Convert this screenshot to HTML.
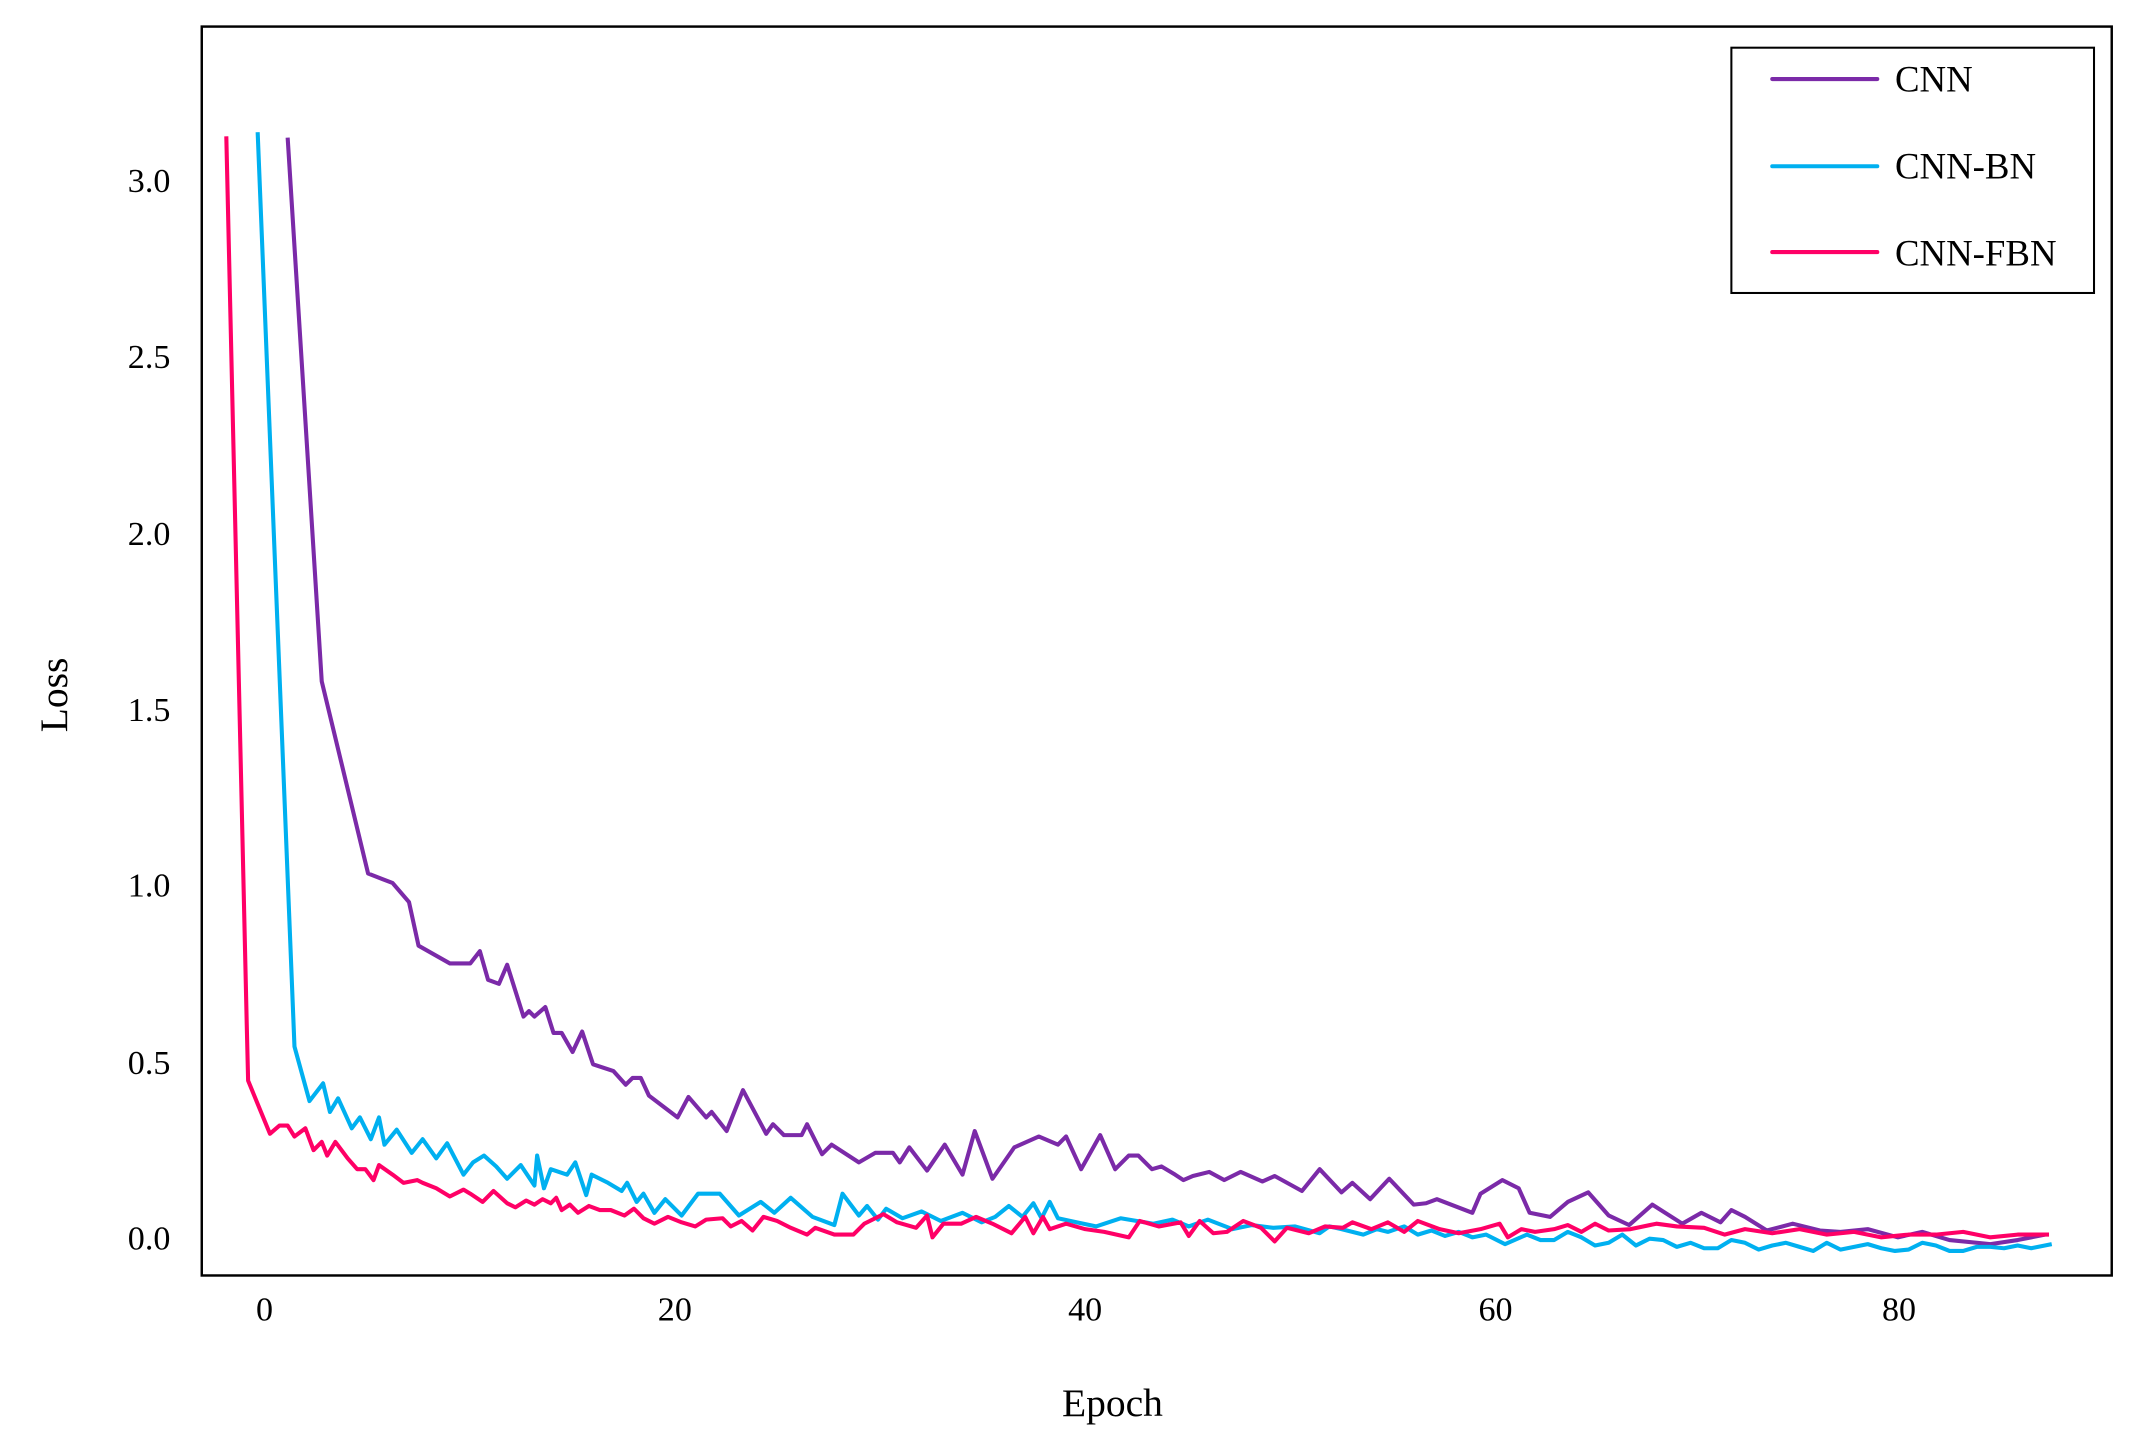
<!DOCTYPE html>
<html><head><meta charset="utf-8"><style>
html,body{margin:0;padding:0;background:#fff;}
svg{display:block;}
text{font-family:"Liberation Serif",serif;fill:#000;}
</style></head><body>
<svg width="2139" height="1454" viewBox="0 0 1569 1067" preserveAspectRatio="none" xmlns="http://www.w3.org/2000/svg">
<rect x="0" y="0" width="1569" height="1067" fill="#fff"/>
<rect x="148" y="19.5" width="1401" height="916.5" fill="none" stroke="#000" stroke-width="1.8"/>
<g font-size="25" text-anchor="end">
<text x="125" y="141">3.0</text>
<text x="125" y="270">2.5</text>
<text x="125" y="400">2.0</text>
<text x="125" y="529">1.5</text>
<text x="125" y="658">1.0</text>
<text x="125" y="788">0.5</text>
<text x="125" y="917">0.0</text>
</g>
<g font-size="25" text-anchor="middle">
<text x="194" y="969">0</text>
<text x="495" y="969">20</text>
<text x="796" y="969">40</text>
<text x="1097" y="969">60</text>
<text x="1393" y="969">80</text>
<text x="816" y="1039" font-size="29">Epoch</text>
</g>
<text x="0" y="0" font-size="29" text-anchor="middle" transform="translate(49,510) rotate(-90)">Loss</text>
<g fill="none" stroke-width="3" stroke-linejoin="round">
<polyline stroke="#7B2AA8" points="211,101 236,500 270,641 288,648 300,662 307,694 330,707 345,707 352,698 358,719 366,722 372,708 384,746 388,742 392,746 400,739 406,758 412,758 420,772 427,757 435,781 450,786 459,796 464,791 470,791 476,804 497,820 505,805 518,820 522,816 533,830 545,800 562,832 567,825 575,833 588,833 592,825 603,847 610,840 630,853 642,846 655,846 660,853 667,842 680,859 693,840 706,862 715,830 728,865 744,842 762,834 776,840 782,834 793,858 807,833 818,858 828,848 835,848 845,858 852,856 862,862 868,866 875,863 887,860 898,866 910,860 926,867 935,863 955,874 968,858 984,875 992,868 1005,880 1019,865 1037,884 1046,883 1054,880 1080,890 1086,876 1102,866 1114,872 1122,890 1137,893 1150,882 1165,875 1180,892 1195,899 1212,884 1234,898 1248,890 1262,897 1270,888 1280,893 1296,903 1315,898 1335,903 1350,904 1370,902 1392,908 1410,904 1430,910 1460,913 1480,910 1500,906"/>
<polyline stroke="#00B0F0" points="189,97 216,768 227,808 237,795 242,816 248,806 258,828 264,820 272,836 278,820 282,840 291,829 302,846 310,836 320,850 328,839 340,862 347,853 355,848 364,856 372,865 382,855 392,870 394,848 399,872 404,858 410,860 416,862 422,853 430,877 434,862 446,868 456,874 460,868 467,882 472,876 480,890 488,880 500,892 512,876 528,876 542,892 558,882 568,890 580,879 596,893 612,899 618,876 630,892 636,885 644,895 650,887 662,894 676,889 690,896 706,890 720,897 730,893 740,885 750,893 758,883 764,894 770,882 776,894 790,897 804,900 822,894 846,898 860,895 872,900 886,895 904,902 918,899 934,901 950,900 968,905 975,900 984,902 1000,906 1010,902 1018,904 1030,900 1040,906 1050,903 1060,907 1070,904 1080,908 1090,906 1104,913 1120,906 1130,910 1140,910 1150,904 1160,908 1170,914 1180,912 1190,906 1200,914 1210,909 1220,910 1230,915 1240,912 1250,916 1260,916 1270,910 1280,912 1290,917 1300,914 1310,912 1320,915 1330,918 1340,912 1350,917 1360,915 1370,913 1380,916 1390,918 1400,917 1410,912 1420,914 1430,918 1440,918 1450,915 1460,915 1470,916 1480,914 1490,916 1505,913"/>
<polyline stroke="#FF0066" points="166,100 181,752 182,793 198,832 205,826 211,826 216,834 224,828 230,844 236,838 240,848 246,838 255,850 262,858 268,858 274,866 278,855 288,862 296,868 301,867 306,866 310,868 320,872 330,878 340,873 345,876 354,882 362,874 372,883 378,886 386,881 392,884 398,880 404,883 408,879 412,888 418,884 424,890 432,885 440,888 448,888 458,892 465,887 472,894 480,898 490,893 500,897 510,900 518,895 530,894 536,900 544,896 552,903 560,893 570,896 580,901 592,906 598,901 612,906 626,906 634,898 648,891 658,897 672,901 680,892 684,908 692,898 705,898 716,893 728,898 742,905 752,893 758,905 765,893 770,902 782,898 796,902 810,904 828,908 836,896 850,900 866,897 872,907 880,896 890,905 900,904 912,896 925,901 935,911 944,901 960,905 972,900 985,901 992,897 1006,902 1018,897 1030,904 1040,896 1056,902 1070,905 1086,902 1100,898 1106,908 1116,902 1126,904 1140,902 1150,899 1160,904 1170,898 1180,903 1196,902 1215,898 1230,900 1250,901 1265,906 1280,902 1300,905 1320,902 1340,906 1360,904 1380,908 1400,906 1420,906 1440,904 1460,908 1480,906 1503,906"/>
</g>
<rect x="1270" y="35" width="266" height="180" fill="#fff" stroke="#000" stroke-width="1.5"/>
<g stroke-width="3" stroke-linecap="round">
<line x1="1300" y1="58" x2="1377" y2="58" stroke="#7B2AA8"/>
<line x1="1300" y1="122" x2="1377" y2="122" stroke="#00B0F0"/>
<line x1="1300" y1="185" x2="1377" y2="185" stroke="#FF0066"/>
</g>
<g font-size="27">
<text x="1390" y="67">CNN</text>
<text x="1390" y="131">CNN-BN</text>
<text x="1390" y="195">CNN-FBN</text>
</g>
</svg>
</body></html>
